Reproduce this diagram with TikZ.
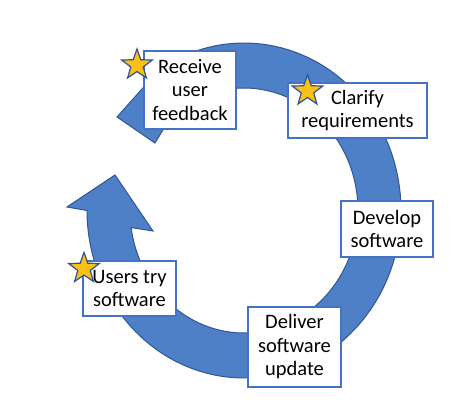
\documentclass[tikz,border=0pt]{standalone}
\usepackage{fontspec}
\setmainfont{Carlito}
\usetikzlibrary{shapes.geometric}
\definecolor{ringfill}{RGB}{78,128,200}
\definecolor{ringline}{RGB}{50,85,150}
\definecolor{boxline}{RGB}{68,114,196}
\definecolor{stargold}{RGB}{250,192,20}
\definecolor{starline}{RGB}{50,80,150}
\tikzset{
  stepbox/.style={draw=boxline, line width=1.5, fill=white, inner sep=0pt,
    align=center, font=\fontsize{20.5}{23.5}\selectfont},
  starmark/.style={star, star points=5, star point ratio=2.45, minimum size=32,
    inner sep=0pt, fill=stargold, draw=starline, line width=1.2},
  ringshape/.style={fill=ringfill, draw=ringline, line width=1, line join=miter}
}
\begin{document}
\begin{tikzpicture}[x=1pt,y=-1pt]
\useasboundingbox[fill=white] (0,0) rectangle (474,416);
% circular band with its two arrow heads
\path[ringshape]
  plot[domain=-127:180, samples=140] ({244+157*cos(\x)},{210.5+167.5*sin(\x)})
  -- (67,207) -- (115,175) -- (153,231)
  -- plot[domain=0:1, samples=140] ({244+114*cos(172-302*\x)},{210.5+122.5*sin(172-302*\x)})
  -- (155,143) -- (117,117) -- (150,80) -- cycle;
% boxes
\node[stepbox, minimum width=92, minimum height=78] (recv) at (190,90) {Receive\\user\\feedback};
\node[stepbox, minimum width=139, minimum height=55] (clar) at (357.5,110.5) {Clarify\\requirements};
\node[stepbox, minimum width=92, minimum height=56] (dev) at (387,229) {Develop\\software};
\node[stepbox, minimum width=93, minimum height=80] (deliv) at (294.5,347) {Deliver\\software\\update};
\node[stepbox, minimum width=93, minimum height=55] (users) at (129.5,288.5) {Users try\\software};
% stars
\node[starmark] (s1) at (137,65) {};
\node[starmark] (s2) at (307.5,91) {};
\node[starmark] (s3) at (84,268.5) {};
\end{tikzpicture}
\end{document}
